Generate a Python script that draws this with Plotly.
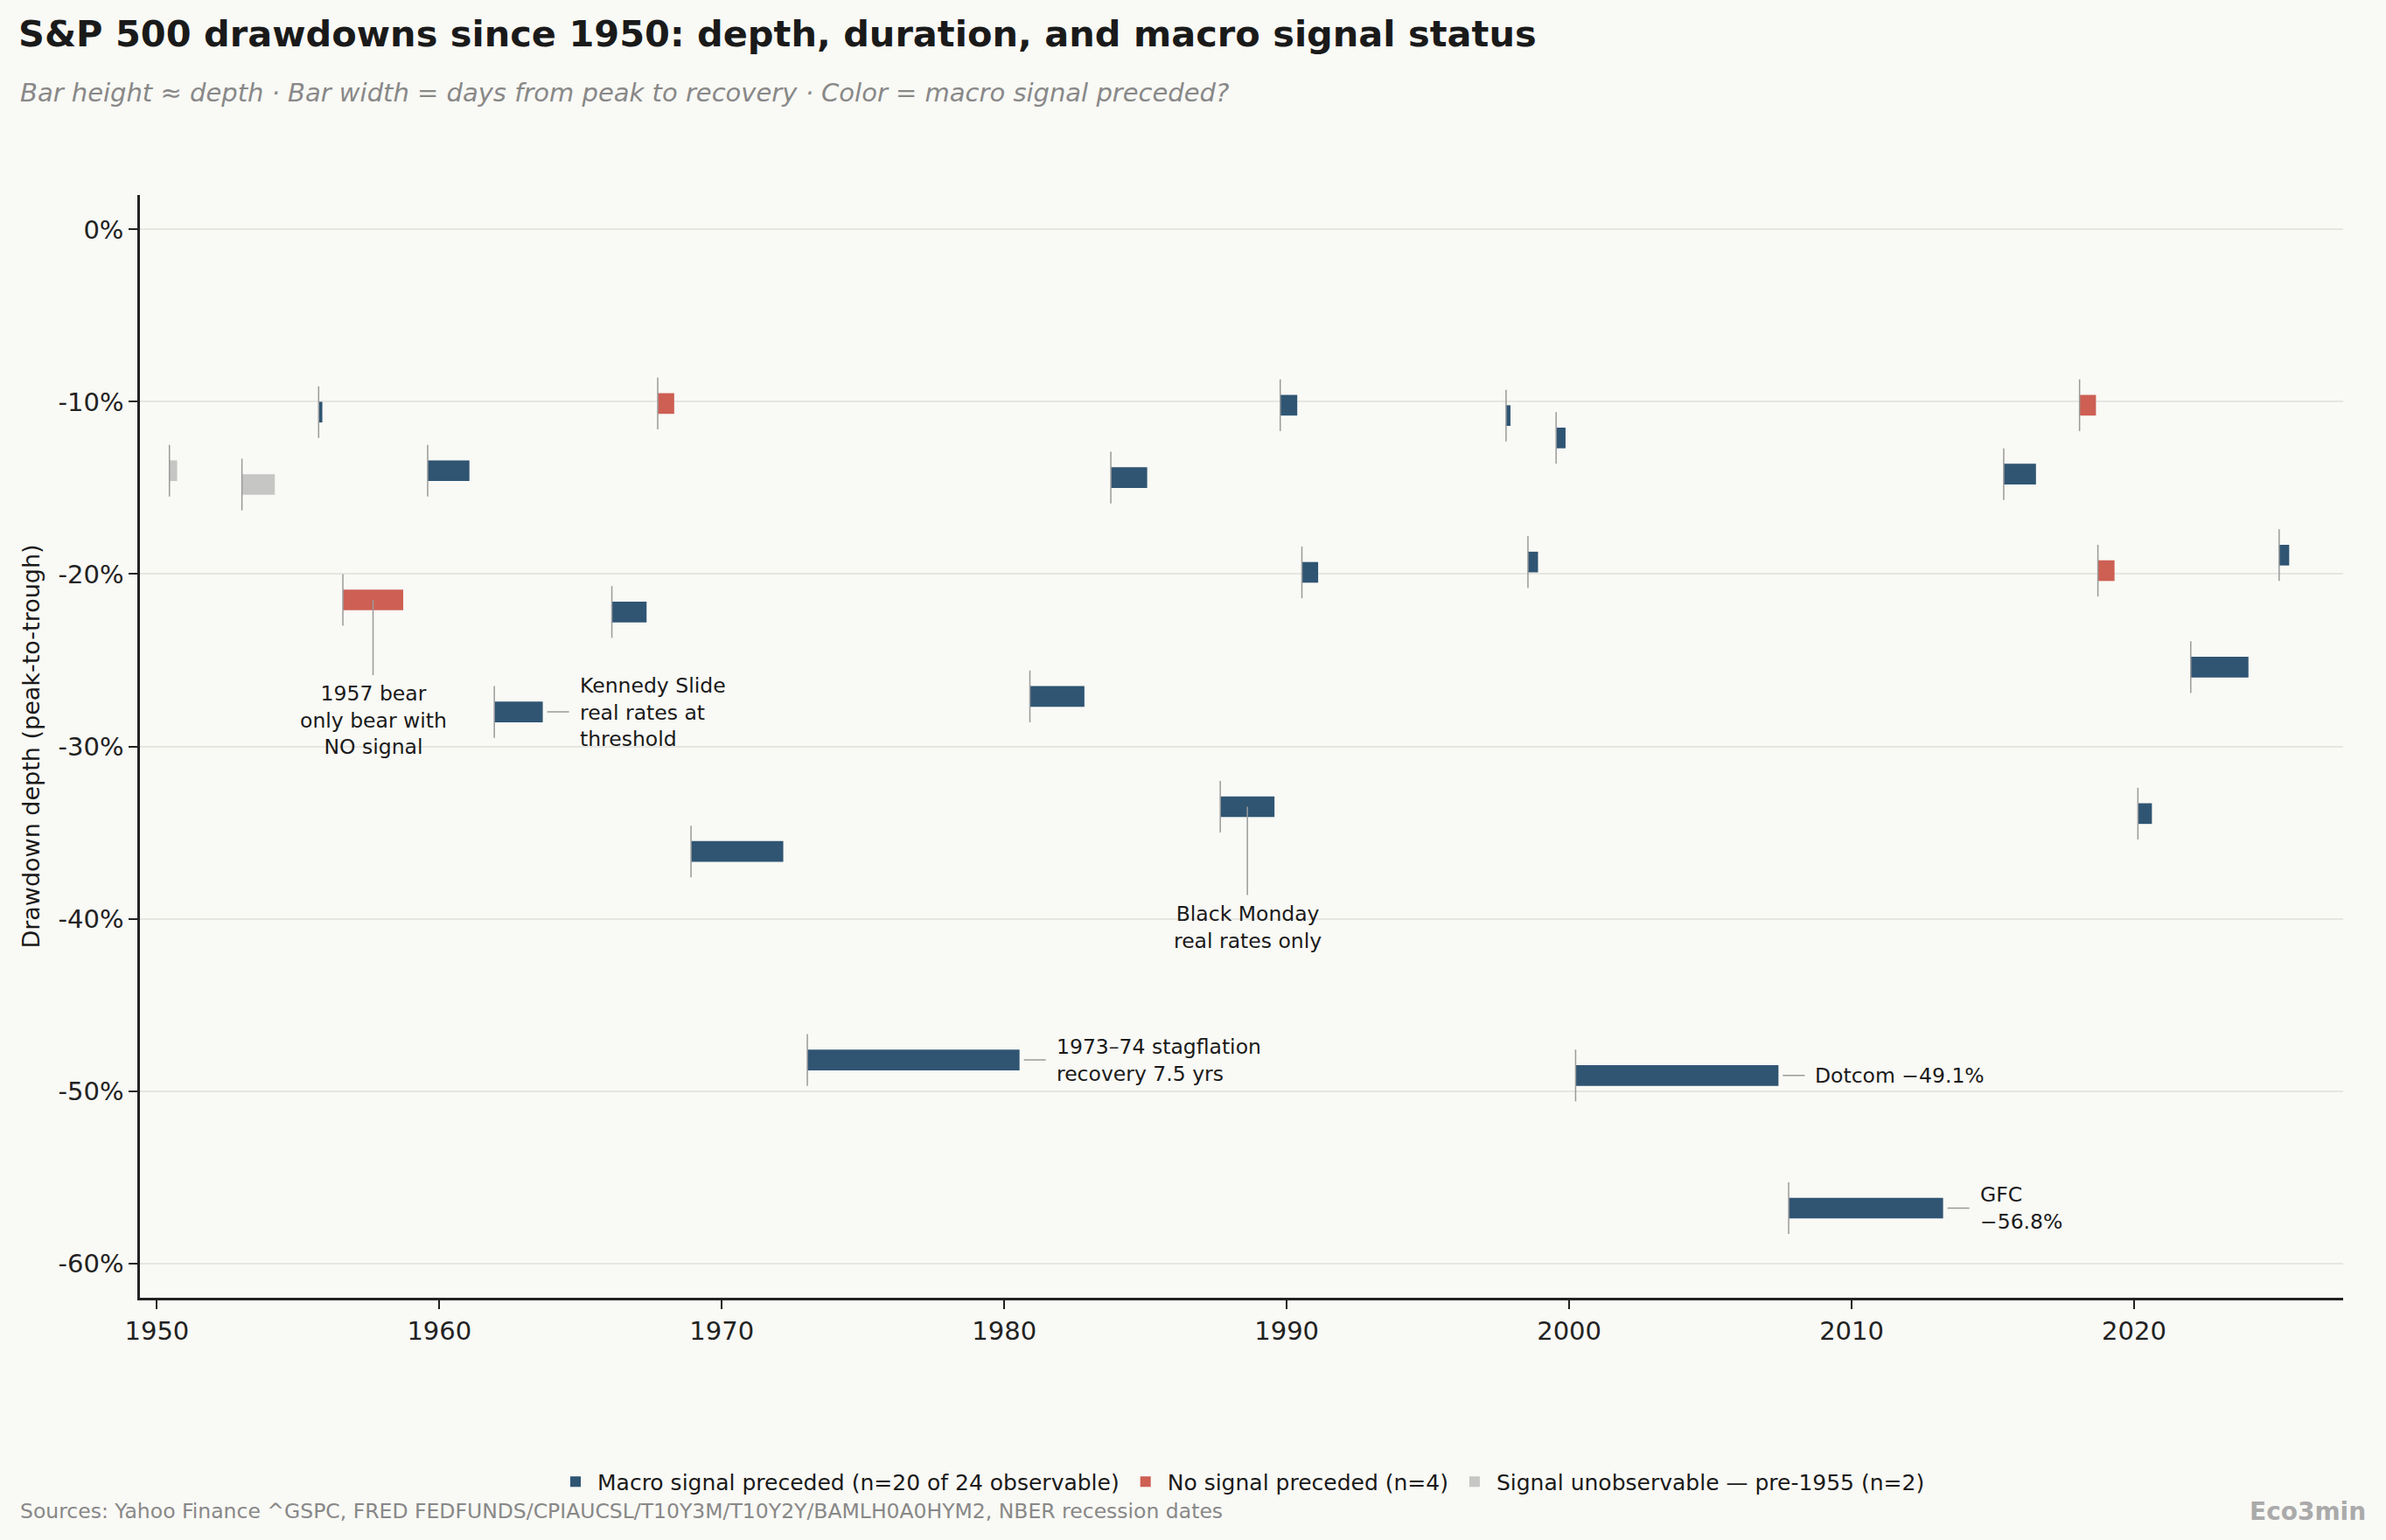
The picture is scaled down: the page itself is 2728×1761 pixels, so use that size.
import pandas as pd
import plotly.graph_objects as go

# ---------------- data ----------------
peak_dates = ["1950-06-12", "1953-01-05", "1955-09-23", "1956-08-02", "1959-08-03",
              "1961-12-12", "1966-02-09", "1967-09-25", "1968-11-29", "1973-01-11",
              "1980-11-28", "1983-10-10", "1987-08-25", "1989-10-09", "1990-07-16",
              "1997-10-07", "1998-07-17", "1999-07-16", "2000-03-24", "2007-10-09",
              "2015-05-21", "2018-01-26", "2018-09-20", "2020-02-19", "2022-01-03",
              "2025-02-19"]
recovery_days = [100, 425, 48, 780, 540,
                 627, 449, 213, 1193, 2744,
                 705, 470, 701, 220, 210,
                 57, 130, 122, 2623, 1997,
                 417, 212, 215, 181, 746,
                 130]
depth_pct = [-14.0, -14.8, -10.6, -21.5, -14.0,
             -28.0, -22.2, -10.1, -36.1, -48.2,
             -27.1, -14.4, -33.5, -10.2, -19.9,
             -10.8, -19.3, -12.1, -49.1, -56.8,
             -14.2, -10.2, -19.8, -33.9, -25.4,
             -18.9]
signal_status = ["unobs", "unobs", "macro", "none", "macro",
                 "macro", "macro", "none", "macro", "macro",
                 "macro", "macro", "macro", "macro", "macro",
                 "macro", "macro", "macro", "macro", "macro",
                 "macro", "none", "none", "macro", "macro",
                 "macro"]

status_order = ["macro", "none", "unobs"]
status_labels = ["Macro signal preceded (n=20 of 24 observable)",
                 "No signal preceded (n=4)",
                 "Signal unobservable \u2014 pre-1955 (n=2)"]
status_colors = ["#2f5573", "#cd5f53", "#c6c6c4"]

x_tick_years = [1950, 1960, 1970, 1980, 1990, 2000, 2010, 2020]
y_tick_vals = [0, -10, -20, -30, -40, -50, -60]
y_tick_text = ["0%", "-10%", "-20%", "-30%", "-40%", "-50%", "-60%"]

# annotations: (event peak date, text)
below_labels = [("1956-08-02", "1957 bear<br>only bear with<br>NO signal"),
                ("1987-08-25", "Black Monday<br>real rates only")]
side_labels = [("1961-12-12", "Kennedy Slide<br>real rates at<br>threshold"),
               ("1973-01-11", "1973\u201374 stagflation<br>recovery 7.5 yrs"),
               ("2000-03-24", "Dotcom \u221249.1%"),
               ("2007-10-09", "GFC<br>\u221256.8%")]

# ---------------- helpers ----------------
def year_frac(s):
    d = pd.Timestamp(s)
    n = 366 if d.is_leap_year else 365
    return d.year + (d.dayofyear - 1) / n

peak_year = [year_frac(s) for s in peak_dates]
dur_years = [d / 365.25 for d in recovery_days]

FONT = "DejaVu Sans"
BG = "#f9f9f5"
BAR_H = 1.2
WHISK = 1.5

fig = go.Figure()

# whiskers at peak
wx, wy = [], []
for p, d in zip(peak_year, depth_pct):
    wx += [p, p, None]
    wy += [d + WHISK, d - WHISK, None]
fig.add_trace(go.Scatter(x=wx, y=wy, mode="lines",
                         line=dict(color="#9a9a9a", width=1.5),
                         showlegend=False, hoverinfo="skip"))

for st, lab, col in zip(status_order, status_labels, status_colors):
    idx = [i for i, s in enumerate(signal_status) if s == st]
    fig.add_trace(go.Bar(
        orientation="h",
        base=[peak_year[i] for i in idx],
        x=[dur_years[i] for i in idx],
        y=[depth_pct[i] for i in idx],
        width=BAR_H,
        marker=dict(color=col, line=dict(width=0)),
        name=lab,
    ))

annotations = []
for date, txt in below_labels:
    i = peak_dates.index(date)
    mid = peak_year[i] + dur_years[i] / 2
    annotations.append(dict(
        x=mid, y=depth_pct[i], ax=mid, ay=depth_pct[i] - 7,
        xref="x", yref="y", axref="x", ayref="y",
        text=txt, showarrow=True, arrowhead=0, arrowwidth=1.5,
        arrowcolor="#9a9a9a", standoff=0, borderpad=7, align="center",
        font=dict(family=FONT, size=23.5, color="#1a1a1a")))

for date, txt in side_labels:
    i = peak_dates.index(date)
    end = peak_year[i] + dur_years[i]
    annotations.append(dict(
        x=end, y=depth_pct[i], ax=end + 0.93, ay=depth_pct[i],
        xref="x", yref="y", axref="x", ayref="y",
        xanchor="left", text=txt, showarrow=True, arrowhead=0,
        arrowwidth=1.5, arrowcolor="#9a9a9a", standoff=5, borderpad=11,
        align="left", font=dict(family=FONT, size=23.5, color="#1a1a1a")))

# subtitle, sources, brand
annotations.append(dict(
    text="Bar height \u2248 depth \u00b7 Bar width = days from peak to recovery \u00b7 Color = macro signal preceded?",
    xref="paper", yref="paper", x=-0.0552, y=1.0928, xanchor="left", yanchor="middle",
    showarrow=False, font=dict(family=FONT, size=29, color="#888888", style="italic")))
annotations.append(dict(
    text="Sources: Yahoo Finance ^GSPC, FRED FEDFUNDS/CPIAUCSL/T10Y3M/T10Y2Y/BAMLH0A0HYM2, NBER recession dates",
    xref="paper", yref="paper", x=-0.0552, y=-0.1935, xanchor="left", yanchor="middle",
    showarrow=False, font=dict(family=FONT, size=23.5, color="#888888")))
annotations.append(dict(
    text="<b>Eco3min</b>", xref="paper", yref="paper", x=1.0111, y=-0.1935,
    xanchor="right", yanchor="middle", showarrow=False,
    font=dict(family=FONT, size=28, color="#aaaaaa")))

fig.update_layout(
    width=2728, height=1761,
    margin=dict(l=160, r=49, t=223, b=277, autoexpand=False),
    paper_bgcolor=BG, plot_bgcolor=BG,
    barmode="overlay",
    font=dict(family=FONT, color="#222222"),
    title=dict(text="S&P 500 drawdowns since 1950: depth, duration, and macro signal status",
               x=21 / 2728, xref="container", xanchor="left",
               y=1 - 38 / 1761, yref="container", yanchor="middle",
               font=dict(family=FONT, size=41.5, color="#1a1a1a", weight="bold")),
    showlegend=True,
    legend=dict(orientation="h", x=0.5, xanchor="center", y=-0.167, yanchor="middle",
                font=dict(family=FONT, size=25, color="#1a1a1a"),
                itemwidth=40,
                bgcolor="rgba(0,0,0,0)", traceorder="normal"),
    annotations=annotations,
)

fig.update_xaxes(range=[1949.4, 2027.4], tickvals=x_tick_years,
                 ticktext=[str(v) for v in x_tick_years],
                 showgrid=False, zeroline=False,
                 showline=True, linecolor="#222222", linewidth=2.5,
                 ticks="outside", ticklen=10, tickwidth=2, tickcolor="#222222",
                 tickfont=dict(family=FONT, size=29, color="#222222"))
fig.update_yaxes(range=[-62, 2], tickvals=y_tick_vals, ticktext=y_tick_text,
                 showgrid=True, gridcolor="#e6e6e1", gridwidth=1.5, zeroline=False,
                 showline=True, linecolor="#222222", linewidth=2.5,
                 ticks="outside", ticklen=10, tickwidth=2, tickcolor="#222222",
                 tickfont=dict(family=FONT, size=29, color="#222222"),
                 title=dict(text="Drawdown depth (peak-to-trough)", standoff=14,
                            font=dict(family=FONT, size=27, color="#1a1a1a")))

fig.write_html("out.html")
